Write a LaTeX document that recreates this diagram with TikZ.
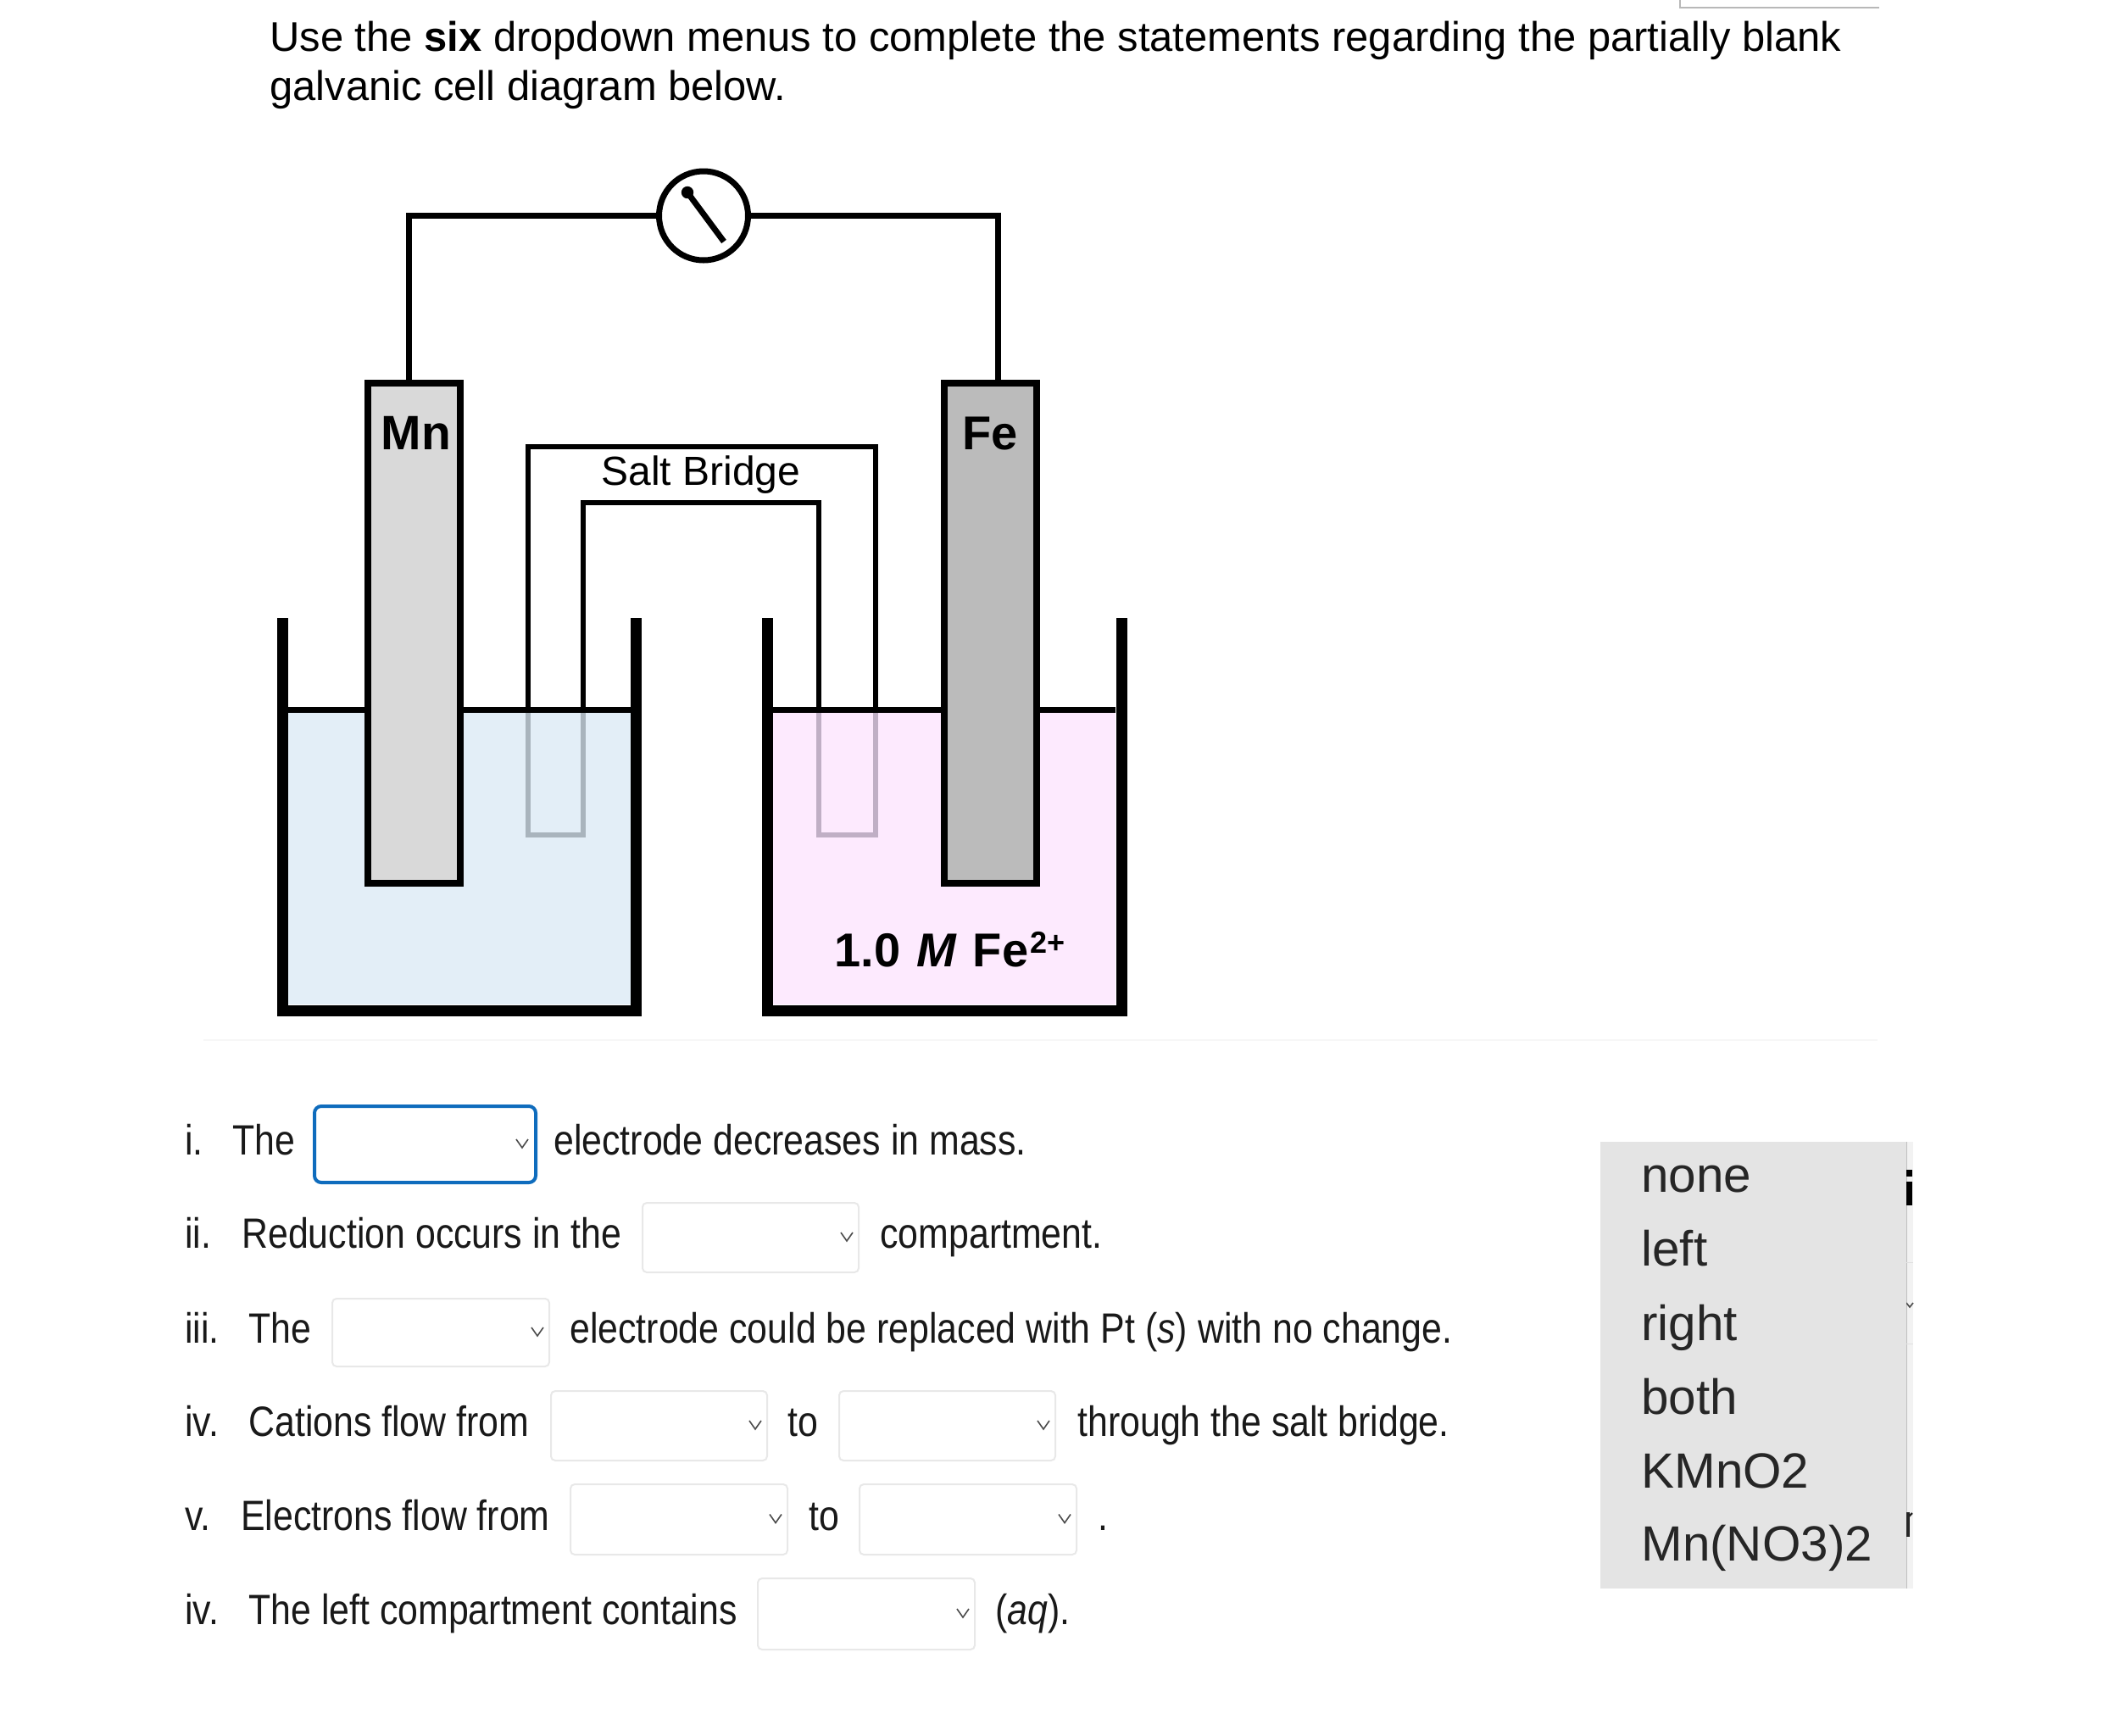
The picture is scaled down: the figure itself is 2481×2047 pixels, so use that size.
\documentclass[tikz,border=0pt]{standalone}
\usepackage{fontspec}
\setmainfont{Liberation Sans}
\newfontfamily\condfont[FakeStretch=0.857]{Liberation Sans}
\definecolor{leftwater}{HTML}{E3EEF7}
\definecolor{rightwater}{HTML}{FDEAFE}
\definecolor{mnmetal}{HTML}{D9D9D9}
\definecolor{femetal}{HTML}{BBBBBB}
\definecolor{leftgrey}{HTML}{A9B4BD}
\definecolor{rightgrey}{HTML}{C0AFC5}
\definecolor{ddline}{HTML}{E8E8E8}
\definecolor{ddblue}{HTML}{0F6CBD}
\definecolor{menubg}{HTML}{E4E4E4}
\tikzset{
  px/.style={x=0.5pt,y=-0.5pt},
  beaker/.style={line width=6.5pt,line join=miter,line cap=butt},
  waterline/.style={line width=3.5pt},
  wire/.style={line width=3.5pt,line join=miter},
  bridge/.style={line width=3.2pt,line join=miter},
  electrode/.style={draw=black,line width=4.4pt,minimum width=54.5pt,minimum height=295pt,inner sep=0pt},
  meter/.style={circle,draw=black,fill=white,line width=3.5pt,minimum size=52.5pt,inner sep=0pt},
  head/.style={font=\fontsize{24.45}{24.45}\selectfont,inner sep=0pt,anchor=base west},
  rowtext/.style={font=\condfont\fontsize{25}{25}\selectfont,inner sep=0pt,anchor=base west,text=black!90},
  menutext/.style={font=\fontsize{29.2}{29.2}\selectfont,inner sep=0pt,anchor=base west,text=black!85},
  ddnode/.style={draw=ddline,line width=1pt,rounded corners=2.5pt,fill=white,inner sep=0pt},
  chev/.style={draw=black!70,line width=0.8pt},
}
\def\chevoff{-15}
\newcommand{\ddbox}[6][ddnode]{%
  \node[#1,minimum width={(#4-#3)*0.5pt},minimum height={(#6-#5)*0.5pt}] (#2) at ({(#3+#4)/2},{(#5+#6)/2}) {};
  \coordinate (#2c) at ([shift={(\chevoff,-1)}]#2.east);
  \draw[chev] ([shift={(-7,-5)}]#2c) -- ([shift={(0,5)}]#2c) -- ([shift={(7,-5)}]#2c);
}
\begin{document}
\begin{tikzpicture}[px]
\useasboundingbox (0,0) rectangle (2481,2047);
\fill[white] (0,0) rectangle (2481,2047);
% top-right fragment
\coordinate (tl) at (1982,0); \coordinate (tc) at (1982,9); \coordinate (tr) at (2217,9);
\draw[black!28,line width=1.2pt] (tl) -- (tc) -- (tr);
% header
\node[head] (h1) at (318,60) {Use the \textbf{six} dropdown menus to complete the statements regarding the partially blank};
\node[head] (h2) at (318,118) {galvanic cell diagram below.};
% liquids
\fill[leftwater] (340,837) rectangle (744,1185);
\fill[rightwater] (912,837) rectangle (1316,1185);
% salt bridge
\coordinate (sa) at (623,837); \coordinate (sb) at (623,527); \coordinate (sc) at (1033,527); \coordinate (sd) at (1033,837);
\coordinate (se) at (688,837); \coordinate (sf) at (688,593); \coordinate (sg) at (966,593); \coordinate (sh) at (966,837);
\draw[bridge] (sa) -- (sb) -- (sc) -- (sd);
\draw[bridge] (se) -- (sf) -- (sg) -- (sh);
\coordinate (la) at (623,985); \coordinate (lb) at (688,985);
\coordinate (ra) at (966,985); \coordinate (rb) at (1033,985);
\draw[bridge,leftgrey] (sa) -- (la) -- (lb) -- (se);
\draw[bridge,rightgrey] (sh) -- (ra) -- (rb) -- (sd);
% water lines
\draw[waterline] (340,837.5) -- (744,837.5);
\draw[waterline] (912,837.5) -- (1316,837.5);
% beakers
\draw[beaker] (333.5,729) -- (333.5,1192) -- (750.5,1192) -- (750.5,729);
\draw[beaker] (905,729) -- (905,1192) -- (1323,1192) -- (1323,729);
% meter and wires
\node[meter] (g) at (830,254.5) {};
\coordinate (mnw) at (482,450);
\coordinate (few) at (1177,450);
\draw[wire] (g.west) -| (mnw);
\draw[wire] (g.east) -| (few);
\coordinate (needlea) at (811,227); \coordinate (needleb) at (854,285);
\draw[line width=3.5pt] (needlea) -- (needleb);
\fill (needlea) circle (3.6pt);
% electrodes
\node[electrode,fill=mnmetal] (mn) at (488.5,747) {};
\node[electrode,fill=femetal] (fe) at (1168.5,747) {};
\node[inner sep=0pt,font=\fontsize{28.5}{28.5}\selectfont\bfseries] (mnl) at (491,511) {Mn};
\node[inner sep=0pt,font=\fontsize{28}{28}\selectfont\bfseries] (fel) at (1168,511) {Fe};
\node[inner sep=0pt,font=\fontsize{24}{24}\selectfont] (sbl) at (827,560) {Salt Bridge};
\node[inner sep=0pt,anchor=base west,font=\fontsize{28}{28}\selectfont\bfseries] (conc) at (984,1140) {1.0\hspace{9.5pt}\textit{M}\hspace{9.5pt}Fe\hspace{1pt}\raisebox{8pt}{\fontsize{18}{18}\selectfont 2+}};
% separator
\coordinate (sepa) at (240,1227); \coordinate (sepb) at (2215,1227);
\draw[black!3,line width=1pt] (sepa) -- (sepb);
% rows
\node[rowtext] (r1a) at (218,1362) {i.};
\node[rowtext] (r1b) at (274,1362) {The};
\def\chevoff{-18}
\ddbox[ddnode,draw=ddblue,line width=2pt,rounded corners=4pt]{b1}{371}{632}{1305}{1395}
\def\chevoff{-15}
\node[rowtext] (r1c) at (653,1362) {electrode decreases in mass.};
\node[rowtext] (r2a) at (218,1472) {ii.};
\node[rowtext] (r2b) at (285,1472) {Reduction occurs in the};
\ddbox{b2}{758}{1013}{1419}{1501}
\node[rowtext] (r2c) at (1038,1472) {compartment.};
\node[rowtext] (r3a) at (218,1584) {iii.};
\node[rowtext] (r3b) at (293,1584) {The};
\ddbox{b3}{392}{648}{1532}{1612}
\node[rowtext] (r3c) at (672,1584) {electrode could be replaced with Pt (\textit{s}) with no change.};
\node[rowtext] (r4a) at (218,1694) {iv.};
\node[rowtext] (r4b) at (293,1694) {Cations flow from};
\ddbox{b4}{650}{905}{1641}{1723}
\node[rowtext] (r4c) at (929,1694) {to};
\ddbox{b5}{990}{1245}{1641}{1723}
\node[rowtext] (r4d) at (1271,1694) {through the salt bridge.};
\node[rowtext] (r5a) at (218,1805) {v.};
\node[rowtext] (r5b) at (284,1805) {Electrons flow from};
\ddbox{b6}{673}{929}{1751}{1834}
\node[rowtext] (r5c) at (954,1805) {to};
\ddbox{b7}{1014}{1270}{1751}{1834}
\node[rowtext] (r5d) at (1295,1805) {.};
\node[rowtext] (r6a) at (218,1916) {iv.};
\node[rowtext] (r6b) at (293,1916) {The left compartment contains};
\ddbox{b8}{894}{1150}{1862}{1946}
\node[rowtext] (r6c) at (1174,1916) {(\textit{aq}).};
% right-hand fragments behind menu
\fill[black!5] (2249,1347) rectangle (2257,1874);
\draw[black!25,line width=0.8pt] (2249,1347) -- (2249,1874);
\draw[black!12,line width=0.5pt] (2249,1489) -- (2257,1489);
\draw[black!12,line width=0.5pt] (2249,1585) -- (2257,1585);
\fill[black] (2249,1380) rectangle (2256,1388);
\fill[black] (2249,1394) rectangle (2256,1422);
\draw[black!70,line width=0.8pt] (2249,1537) -- (2253,1542) -- (2257,1537);
\draw[black!85,line width=1.6pt] (2251,1784) -- (2251,1813);
\draw[black!85,line width=1.2pt] (2251,1790) -- (2256,1785);
% menu
\fill[menubg] (1888,1347) rectangle (2249,1874);
\node[menutext] (m1) at (1936,1406) {none};
\node[menutext] (m2) at (1936,1493) {left};
\node[menutext] (m3) at (1936,1581) {right};
\node[menutext] (m4) at (1936,1668.5) {both};
\node[menutext] (m5) at (1936,1755) {KMnO2};
\node[menutext] (m6) at (1936,1841.5) {Mn(NO3)2};
\end{tikzpicture}
\end{document}
